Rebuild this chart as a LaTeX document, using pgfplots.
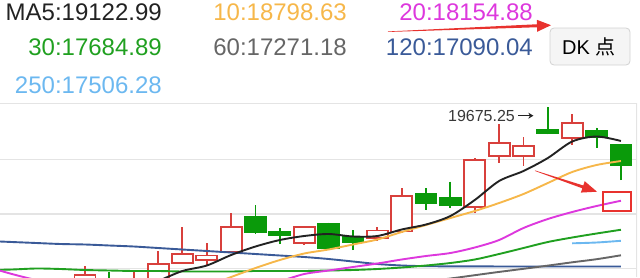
\documentclass[border=0pt]{standalone}
\usepackage{pgfplots}
\pgfplotsset{compat=1.18}
\usepgfplotslibrary{statistics}
\usetikzlibrary{arrows.meta}
\usepackage{fontspec}
\setmainfont{Liberation Sans}
\newfontfamily\cjk{Noto Sans CJK SC}
\definecolor{cred}{HTML}{D8403C}
\definecolor{cgreen}{HTML}{0A9A0A}
\definecolor{ma5}{HTML}{222222}
\definecolor{ma10}{HTML}{F6B74A}
\definecolor{ma20}{HTML}{DD38DD}
\definecolor{ma30}{HTML}{20A020}
\definecolor{ma60}{HTML}{666666}
\definecolor{ma120}{HTML}{3A5A98}
\definecolor{ma250}{HTML}{6CB8F0}
\definecolor{gridc}{HTML}{E4E4E4}
\definecolor{arrowred}{HTML}{E8322E}
\definecolor{boxfill}{HTML}{F5F5F5}
\definecolor{boxline}{HTML}{D2D2D2}
% candle: {index}{open}{high}{low}{close}
\newcommand{\candleup}[5]{\addplot[draw=cred, fill=white, line width=1.9pt, boxplot prepared={draw position=#1, lower whisker=#4, lower quartile=#2, median=#2, upper quartile=#5, upper whisker=#3}] coordinates {};}
\newcommand{\candledn}[5]{\addplot[draw=cgreen, fill=cgreen, line width=1.9pt, boxplot prepared={draw position=#1, lower whisker=#4, lower quartile=#5, median=#5, upper quartile=#2, upper whisker=#3}] coordinates {};}
\begin{document}
\begin{tikzpicture}
\useasboundingbox (0pt,0pt) rectangle (640pt,277pt);
% legend texts
\begin{scope}[every node/.style={anchor=base east, inner sep=0pt, font=\fontsize{24}{28}\selectfont}]
\node[text=ma5] at (162pt,257pt) {MA5:19122.99};
\node[text=ma10] at (347pt,257pt) {10:18798.63};
\node[text=ma20] at (533pt,257pt) {20:18154.88};
\node[text=ma30] at (162pt,222pt) {30:17684.89};
\node[text=ma60] at (347pt,222pt) {60:17271.18};
\node[text=ma120] at (533pt,222pt) {120:17090.04};
\node[text=ma250] at (162pt,184pt) {250:17506.28};
\end{scope}
% DK button
\draw[fill=boxfill, draw=boxline, rounded corners=4pt, line width=0.8pt] (550pt,212pt) rectangle (630pt,249pt);
\node[inner sep=0pt, font=\fontsize{20}{24}\selectfont] at (589pt,230.5pt) {DK\hspace{6pt}{\cjk 点}};
% top red arrow
\fill[arrowred] (387.99pt,245.55pt) -- (536.95pt,252.74pt) -- (536.77pt,257.24pt) -- (551pt,251.8pt) -- (537.25pt,245.24pt) -- (537.07pt,249.74pt) -- (388.01pt,245.05pt) -- cycle;
\begin{axis}[at={(0pt,0pt)}, anchor=south west, width=637pt, height=174pt, scale only axis,
  xmin=-3.489, xmax=22.66, ymin=16919.6, ymax=19738.4,
  axis line style={draw=none}, tick style={draw=none},
  xtick=\empty, ytick={17057.3,17940.2,18826.3,19734}, yticklabels={},
  scaled y ticks=false,
  ymajorgrids, grid style={gridc, line width=1.5pt},
  boxplot/draw direction=y, boxplot/box extend=0.86, boxplot/whisker extend=0]
\draw[gridc, line width=1.5pt] (rel axis cs:1,0) -- (rel axis cs:1,1);
% candles
\candleup{0}{16709}{17097.8}{16628}{16952}
\candledn{1}{16887.2}{17008.7}{16611.8}{16676.6}
\candleup{2}{16628}{17000.6}{16579.4}{16887.2}
\candleup{3}{16790}{17348.9}{16741.4}{17127}
\candleup{4}{17146.4}{17729.6}{17140}{17287.3}
\candleup{5}{17190.1}{17478.5}{17105.9}{17267.9}
\candleup{6}{17329.5}{17951.5}{17324.6}{17734.5}
\candledn{7}{17886.7}{18082.8}{17621.1}{17653.5}
\candledn{8}{17648.6}{17713.4}{17454.2}{17600}
\candleup{9}{17475.3}{17745.8}{17442.9}{17734.5}
\candledn{10}{17778.2}{17799.3}{17379.7}{17384.5}
\candledn{11}{17572.5}{17681}{17357}{17481.7}
\candleup{12}{17551.4}{17737.7}{17510.9}{17672.9}
\candleup{13}{17656.7}{18356.5}{17651.8}{18231.8}
\candledn{14}{18259.3}{18356.5}{18005}{18113.5}
\candledn{15}{18204.3}{18463.5}{18032.5}{18086}
\candleup{16}{18048.7}{18842.5}{17951.5}{18815}
\candleup{17}{18879.8}{19398.2}{18771.3}{19085.5}
\candleup{18}{18879.8}{19192.5}{18717.8}{19046.7}
\candledn{19}{19301}{19675.25}{19231.3}{19247.5}
\candleup{20}{19166.5}{19560.2}{19058}{19419.3}
\candledn{21}{19289.7}{19338.3}{19014.3}{19192.5}
\candledn{22}{19066}{19069.3}{18491}{18734}
% moving averages
\addplot[ma120, line width=1.9pt, smooth] coordinates {(-4,17502.8) (-3,17486.6) (-2,17470.4) (-1,17454.2) (0,17446.1) (1,17429.9) (2,17413.7) (3,17389.4) (4,17365.1) (5,17340.8) (6,17316.5) (7,17292.2) (8,17267.9) (9,17243.6) (10,17211.2) (11,17170.7) (12,17130.2) (13,17105.9) (14,17095) (15,17092) (16,17091) (17,17090.5) (18,17090.3) (19,17090.2) (20,17090.1) (21,17090.05) (22,17090.04)};
\addplot[ma60, line width=1.9pt, smooth] coordinates {(13,16790) (14,16846.7) (15,16895.3) (16,16948.8) (17,17002.2) (18,17052.4) (19,17104.3) (20,17157.7) (21,17208) (22,17271.18)};
\addplot[ma250, line width=1.9pt, smooth] coordinates {(20,17465.5) (21,17478.5) (22,17506.28)};
\addplot[ma30, line width=1.9pt, smooth] coordinates {(-4,17033) (-3,17041.1) (-2,17057.3) (-1,17049.2) (0,17033) (1,17024.9) (2,17016.8) (3,17016.8) (4,17008.7) (5,17008.7) (6,17008.7) (7,17016.8) (8,17016.8) (9,17016.8) (10,17024.9) (11,17033) (12,17049.2) (13,17073.5) (14,17105.9) (15,17146.4) (16,17203.1) (17,17292.2) (18,17389.4) (19,17486.6) (20,17559.5) (21,17624.3) (22,17684.89)};
\addplot[ma20, line width=1.9pt, smooth] coordinates {(-4,17081.6) (-3,16968.2) (-2,16871) (-1,16806.2) (0,16757.6) (1,16725.2) (2,16709) (3,16709) (4,16725.2) (5,16741.4) (6,16773.8) (7,16806.2) (8,16854.8) (9,16968.2) (10,17024.9) (11,17081.6) (12,17138.3) (13,17203.1) (14,17259.8) (15,17308.4) (16,17397.5) (17,17519) (18,17713.4) (19,17859.2) (20,17972.6) (21,18069.8) (22,18154.88)};
\addplot[ma10, line width=1.9pt, smooth] coordinates {(5,16773.8) (6,16919.6) (7,17065.4) (8,17195) (9,17300.3) (10,17365.1) (11,17446.1) (12,17527.1) (13,17648.6) (14,17762) (15,17875.4) (16,17988.8) (17,18118.4) (18,18264.2) (19,18442.4) (20,18620.6) (21,18734) (22,18798.63)};
\addplot[ma5, line width=1.9pt, smooth] coordinates {(2,16709) (3,16854.8) (4,17016.8) (5,17105.9) (6,17276) (7,17413.7) (8,17519) (9,17583.8) (10,17616.2) (11,17575.7) (12,17583.8) (13,17689.1) (14,17770.1) (15,17907.8) (16,18167) (17,18474.8) (18,18636.8) (19,18847.4) (20,19114.7) (21,19195.7) (22,19122.99)};
% max label
\node[anchor=base east, inner sep=0pt, text=ma5!90, font=\fontsize{16}{19}\selectfont] at ([xshift=-32.8pt,yshift=-14.8pt]axis cs:19,19675.25) {19675.25};
\draw[ma5, line width=1.3pt, -{Stealth[length=5pt,width=6pt]}] ([xshift=-29.8pt,yshift=-8.8pt]axis cs:19,19675.25) -- ([xshift=-14.5pt,yshift=-8.8pt]axis cs:19,19675.25);
\end{axis}
% chart red arrow and rectangle
\fill[arrowred] (535.08pt,106.54pt) -- (583.28pt,91.52pt) -- (584.73pt,95.78pt) -- (597pt,85.3pt) -- (580.87pt,84.42pt) -- (582.32pt,88.68pt) -- (534.92pt,106.06pt) -- cycle;
\draw[arrowred, line width=1.6pt] (603pt,85.3pt) rectangle (631pt,66.3pt);
\end{tikzpicture}
\end{document}
